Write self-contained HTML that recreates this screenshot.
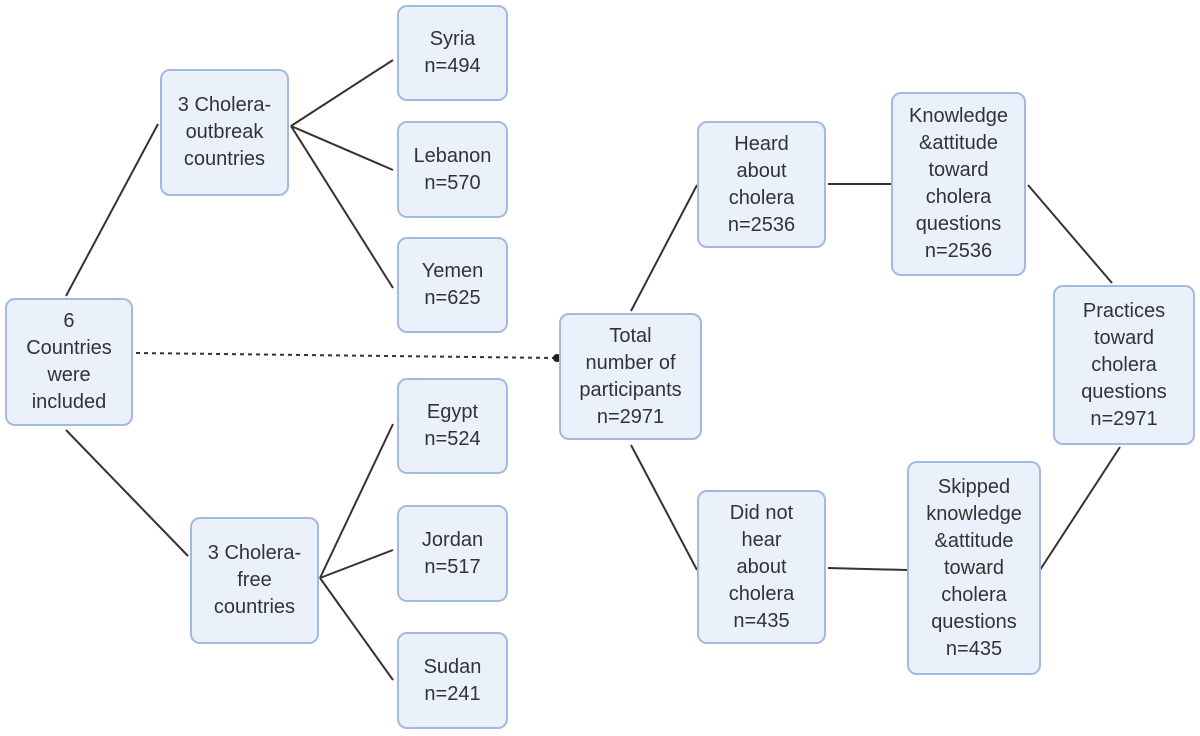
<!DOCTYPE html>
<html><head><style>
body{margin:0;width:1200px;height:736px;background:#fff;position:relative;overflow:hidden;font-family:"Liberation Sans",sans-serif}
.b{position:absolute;box-sizing:border-box;background:#eaf1fb;border:2px solid #a3b9e2;border-radius:10px;display:flex;align-items:center;justify-content:center;text-align:center;color:#333;font-size:20px;line-height:27px}
svg{position:absolute;left:0;top:0}
</style></head><body>
<svg width="1200" height="736">
<g stroke="#333" stroke-width="2" fill="none">
<line x1="66" y1="296" x2="158" y2="124"/>
<line x1="66" y1="430" x2="188" y2="556"/>
<line x1="291" y1="126" x2="393" y2="60"/>
<line x1="291" y1="126" x2="393" y2="170"/>
<line x1="291" y1="126" x2="393" y2="288"/>
<line x1="320" y1="578" x2="393" y2="424"/>
<line x1="320" y1="578" x2="393" y2="550"/>
<line x1="320" y1="578" x2="393" y2="680"/>
<line x1="136" y1="353" x2="556" y2="358" stroke-dasharray="4,4"/>
<line x1="631" y1="311" x2="697" y2="185"/>
<line x1="631" y1="445" x2="697" y2="570"/>
<line x1="828" y1="184" x2="891" y2="184"/>
<line x1="828" y1="568" x2="907" y2="570"/>
<line x1="1028" y1="185" x2="1112" y2="283"/>
<line x1="1040" y1="570" x2="1120" y2="447"/>
</g>
<circle cx="557" cy="358" r="4" fill="#222"/>
</svg>
<div class="b" style="left:5px;top:298px;width:128px;height:128px">6<br>Countries<br>were<br>included</div>
<div class="b" style="left:160px;top:69px;width:129px;height:127px">3 Cholera-<br>outbreak<br>countries</div>
<div class="b" style="left:190px;top:517px;width:129px;height:127px">3 Cholera-<br>free<br>countries</div>
<div class="b" style="left:397px;top:5px;width:111px;height:96px">Syria<br>n=494</div>
<div class="b" style="left:397px;top:121px;width:111px;height:97px">Lebanon<br>n=570</div>
<div class="b" style="left:397px;top:237px;width:111px;height:96px">Yemen<br>n=625</div>
<div class="b" style="left:397px;top:378px;width:111px;height:96px">Egypt<br>n=524</div>
<div class="b" style="left:397px;top:505px;width:111px;height:97px">Jordan<br>n=517</div>
<div class="b" style="left:397px;top:632px;width:111px;height:97px">Sudan<br>n=241</div>
<div class="b" style="left:559px;top:313px;width:143px;height:127px">Total<br>number of<br>participants<br>n=2971</div>
<div class="b" style="left:697px;top:121px;width:129px;height:127px">Heard<br>about<br>cholera<br>n=2536</div>
<div class="b" style="left:891px;top:92px;width:135px;height:184px">Knowledge<br>&amp;attitude<br>toward<br>cholera<br>questions<br>n=2536</div>
<div class="b" style="left:1053px;top:285px;width:142px;height:160px">Practices<br>toward<br>cholera<br>questions<br>n=2971</div>
<div class="b" style="left:697px;top:490px;width:129px;height:154px">Did not<br>hear<br>about<br>cholera<br>n=435</div>
<div class="b" style="left:907px;top:461px;width:134px;height:214px">Skipped<br>knowledge<br>&amp;attitude<br>toward<br>cholera<br>questions<br>n=435</div>
</body></html>
